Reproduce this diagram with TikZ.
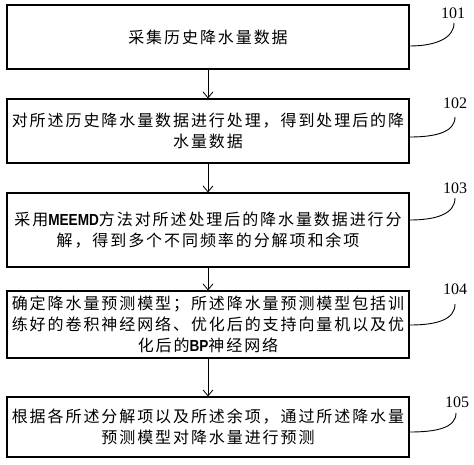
\documentclass[tikz,border=0pt]{standalone}
\usepackage{fontspec}
\setmainfont{Liberation Serif}
\newfontfamily\cjk{Noto Sans CJK SC}[LetterSpace=12]
\newfontfamily\latb{Liberation Sans}[FakeStretch=0.85]
\newcommand{\lb}[1]{{\latb\bfseries #1}}
\usetikzlibrary{arrows.meta,calc}
\begin{document}
\begin{tikzpicture}[x=1pt,y=-1pt,
  box/.style={draw,line width=1.1pt,minimum width=402pt,inner sep=0pt,align=center,
    font=\cjk\fontsize{16}{21}\selectfont},
  arr/.style={line width=0.8pt,-{Straight Barb[length=6pt,width=10pt,line width=0.8pt]}},
  lead/.style={line width=0.9pt},
  num/.style={font=\fontsize{16}{18}\selectfont,inner sep=0pt}]
\path[use as bounding box] (0,0) rectangle (474,464);
\node[box,minimum height=64pt] (b1) at (208,37) {采集历史降水量数据};
\node[box,minimum height=64pt] (b2) at (208,131) {对所述历史降水量数据进行处理，得到处理后的降\\水量数据};
\node[box,minimum height=74pt] (b3) at (208,230) {采用\lb{MEEMD}方法对所述处理后的降水量数据进行分\\解，得到多个不同频率的分解项和余项};
\node[box,minimum height=67pt] (b4) at (208,324.5) {确定降水量预测模型；所述降水量预测模型包括训\\练好的卷积神经网络、优化后的支持向量机以及优\\化后的\lb{BP}神经网络};
\node[box,minimum height=60pt] (b5) at (208,427) {根据各所述分解项以及所述余项，通过所述降水量\\预测模型对降水量进行预测};
\draw[arr] (b1) -- (b2);
\draw[arr] (b2) -- (b3);
\draw[arr] (b3) -- (b4);
\draw[arr] (b4) -- (b5);
\node[num] (n1) at (453,13) {101};
\node[num] (n2) at (455,103) {102};
\node[num] (n3) at (455,188) {103};
\node[num] (n4) at (455,289) {104};
\node[num] (n5) at (457,402) {105};
\coordinate (e1) at (454,23);
\coordinate (e2) at (455,117);
\coordinate (e3) at (455,198);
\coordinate (e4) at (455,304);
\coordinate (e5) at (456,413);
\draw[lead] ($(b1.east)+(0,9)$) .. controls (436,46) and (454,38) .. (e1);
\draw[lead] ($(b2.east)+(0,6)$) .. controls (436,137) and (455,132) .. (e2);
\draw[lead] ($(b3.east)+(0,-10)$) .. controls (436,220) and (455,214) .. (e3);
\draw[lead] ($(b4.east)+(0,0.5)$) .. controls (436,325) and (455,320) .. (e4);
\draw[lead] ($(b5.east)+(0,5)$) .. controls (436,432) and (456,428) .. (e5);
\end{tikzpicture}
\end{document}
